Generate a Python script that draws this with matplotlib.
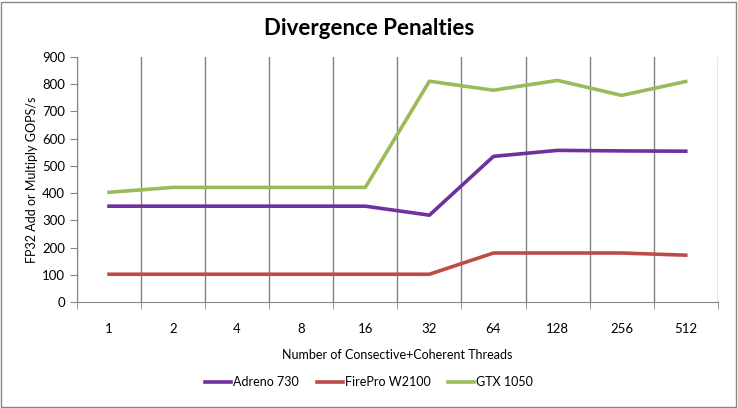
import matplotlib
matplotlib.use("Agg")
import matplotlib.pyplot as plt
from matplotlib.patches import Rectangle

# Daten
threads = ["1", "2", "4", "8", "16", "32", "64", "128", "256", "512"]
adreno_730 = [352, 352, 352, 352, 352, 319, 535, 557, 555, 554]
firepro_w2100 = [102, 102, 102, 102, 102, 102, 180, 180, 180, 172]
gtx_1050 = [403, 421, 421, 421, 421, 811, 778, 814, 759, 810]

plt.rcParams['font.family'] = ['Lato', 'DejaVu Sans']

fig = plt.figure(figsize=(7.38, 4.08), dpi=100)
ax = fig.add_axes([0.1043, 0.2598, 0.8683, 0.6005])

x = list(range(len(threads)))
ax.plot(x, adreno_730, color="#7030A0", lw=2.6, label="Adreno 730")
ax.plot(x, firepro_w2100, color="#BE4B48", lw=2.6, label="FirePro W2100")
ax.plot(x, gtx_1050, color="#9BBB59", lw=2.6, label="GTX 1050")

ax.set_xlim(-0.5, len(threads) - 0.5)
ax.set_ylim(0, 900)
ax.set_yticks(range(0, 901, 100))
ax.set_xticks(x)
ax.set_xticklabels(threads, fontsize=9.5)
ax.set_xticks([i + 0.5 for i in range(-1, len(threads))], minor=True)
ax.tick_params(axis="x", which="major", length=0, pad=15)
ax.tick_params(axis="x", which="minor", length=5, color="#868686", direction="out")
ax.tick_params(axis="y", length=5, color="#868686", direction="out", labelsize=9.5)
ax.grid(True, axis="x", which="minor", color="#808080", lw=1)

for s in ["top", "right"]:
    ax.spines[s].set_visible(False)
for s in ["left", "bottom"]:
    ax.spines[s].set_color("#868686")

ax.set_ylabel("FP32 Add or Multiply GOPS/s", fontsize=9, labelpad=3)
ax.set_xlabel("Number of Consective+Coherent Threads", fontsize=9, labelpad=10)
fig.suptitle("Divergence Penalties", fontsize=16, fontweight="bold", y=0.955)

ax.legend(loc="center", bbox_to_anchor=(0.5, 0.064), bbox_transform=fig.transFigure,
          ncol=3, frameon=False, fontsize=9, handlelength=2.1, columnspacing=1.4,
          handletextpad=0.15)

fig.patches.append(Rectangle((0.002, 0.003), 0.995, 0.993, transform=fig.transFigure,
                             fill=False, edgecolor="#868686", lw=1))

fig.savefig("out.png", dpi=100)
